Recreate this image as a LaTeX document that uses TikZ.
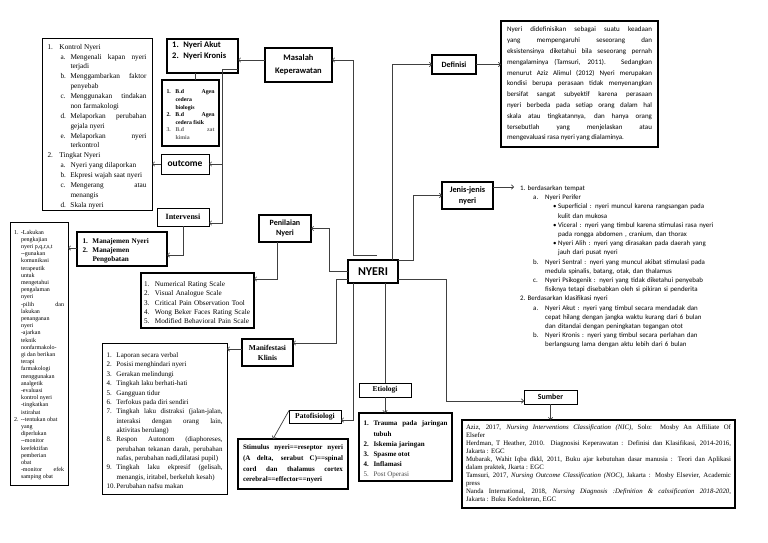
\documentclass[tikz,border=0pt]{standalone}
\usepackage{fontspec}
\setmainfont{Liberation Serif}
\newfontfamily\carl{Carlito}
\usetikzlibrary{arrows.meta,calc}
\newcommand\fs[2]{\fontsize{#1}{#2}\selectfont}
\newcommand\li[3]{\par\hangindent=#2\relax\hangafter=1\relax\noindent\makebox[#2][l]{\hspace*{#1}#3}\ignorespaces}
\tolerance=10000
\hyphenpenalty=10000
\exhyphenpenalty=10000
\setlength\parindent{0pt}
\begin{document}
\begin{tikzpicture}[x=1pt,y=-1pt,
  bx/.style={draw=black,line width=0.9pt,inner sep=0pt,outer sep=0pt},
  tk/.style={bx,line width=1.6pt},
  ln/.style={draw=black!75,line width=0.7pt},
  ar/.style={ln,-{Straight Barb[length=2.2pt,width=4.4pt]}},
]
\fill[white] (0,0) rectangle (768,543);
\useasboundingbox (0,0) rectangle (768,543);

% ---------- left column ----------
\node[bx,minimum width=110pt,minimum height=172pt,text width=99pt,align=justify,font=\fs{7.3}{9.875}] (kontrol) at (97,124) {%
\li{0pt}{12pt}{1.}Kontrol Nyeri
\li{13pt}{23pt}{a.}Mengenali kapan nyeri\linebreak terjadi
\li{13pt}{23pt}{b.}Menggambarkan faktor\linebreak penyebab
\li{13pt}{23pt}{c.}Menggunakan tindakan\linebreak non farmakologi
\li{13pt}{23pt}{d.}Melaporkan perubahan\linebreak gejala nyeri
\li{13pt}{23pt}{e.}Melaporkan nyeri\linebreak terkontrol
\li{0pt}{12pt}{2.}Tingkat Nyeri
\li{13pt}{23pt}{a.}Nyeri yang dilaporkan
\li{13pt}{23pt}{b.}Ekpresi wajah saat nyeri
\li{13pt}{23pt}{c.}Mengerang atau\linebreak menangis
\li{13pt}{23pt}{d.}Skala nyeri\par};

\node[tk,minimum width=71pt,minimum height=34pt] (akut) at (202.5,56) {};
\node[anchor=north west,inner sep=0pt,align=left,font=\carl\bfseries\fs{8.5}{11}] (akuttxt) at (172,41) {1.\hspace{4.5pt}Nyeri Akut\\2.\hspace{4.5pt}Nyeri Kronis};

\node[tk,minimum width=57pt,minimum height=66pt,text width=48pt,align=justify,font=\bfseries\fs{5.8}{7.6}] (bd) at (190.5,113) {%
\li{0pt}{9pt}{1.}B.d Agen\linebreak cedera\newline biologis
\li{0pt}{9pt}{2.}B.d Agen\linebreak cedera fisik
\li{0pt}{9pt}{\color{black!60}3.}{\color{black!60}B.d zat\linebreak kimia}\par};

\node[bx,line width=1.2pt,minimum width=67pt,minimum height=34pt,align=center,font=\carl\bfseries\fs{8.5}{13}] (masalah) at (298.5,65) {Masalah\\Keperawatan};

\node[bx,minimum width=48pt,minimum height=20pt,font=\carl\bfseries\fs{9.5}{11}] (outcome) at (185,164) {outcome};

\node[bx,minimum width=52pt,minimum height=18pt,font=\bfseries\fs{8}{10}] (intervensi) at (183,217) {Intervensi};

\node[tk,minimum width=90pt,minimum height=34pt,text width=79pt,align=left,font=\bfseries\fs{7.2}{9}] (manajemen) at (122,249) {%
\li{0pt}{10pt}{1.}Manajemen Nyeri
\li{0pt}{10pt}{2.}Manajemen\newline Pengobatan\par};

\node[bx,minimum width=58pt,minimum height=263pt,text width=50pt,align=justify,font=\fs{6}{7.2}] (leftbox) at (39,353.5) {%
\li{0pt}{7pt}{1.}-Lakukan\newline pengkajian\newline nyeri p,q,r,s,t\newline -{}-gunakan\newline komunikasi\newline terapeutik\newline untuk\newline mengetahui\newline pengalaman\newline nyeri\newline -pilih dan\linebreak lakukan\newline penanganan\newline nyeri\newline -ajarkan\newline teknik\newline nonfarmakolo-\newline gi dan berikan\newline terapi\newline farmakologi\newline menggunakan\newline analgetik\newline -evaluasi\newline kontrol nyeri\newline -tingkatkan\newline istirahat
\li{0pt}{7pt}{2.}-{}-tentukan obat\newline yang\newline diperlukan\newline -{}-monitor\newline keefektifan\newline pemberian\newline obat\newline -monitor efek\linebreak samping obat\par};

% ---------- centre ----------
\node[bx,line width=1.1pt,minimum width=52pt,minimum height=27pt,align=center,font=\carl\bfseries\fs{8}{10.5}] (penilaian) at (285,228.5) {Penilaian\\Nyeri};

\node[tk,minimum width=113pt,minimum height=55pt,text width=107pt,align=left,font=\fs{7.2}{9.2}] (scales) at (197.5,300.5) {%
\li{0pt}{11pt}{1.}Numerical Rating Scale
\li{0pt}{11pt}{2.}Visual Analogue Scale
\li{0pt}{11pt}{3.}Critical Pain Observation Tool
\li{0pt}{11pt}{4.}Wong Beker Faces Rating Scale
\li{0pt}{11pt}{5.}Modified Behavioral Pain Scale\par};

\node[tk,minimum width=50pt,minimum height=23pt,font=\carl\bfseries\fs{12}{14}] (nyeri) at (373,271.5) {NYERI};

\node[tk,minimum width=51pt,minimum height=27pt,align=center,font=\bfseries\fs{7.5}{10}] (manif) at (267.5,352.5) {Manifestasi\\Klinis};

\node[bx,minimum width=125pt,minimum height=151pt,text width=116pt,align=justify,font=\fs{7}{9.36}] (maniflist) at (164.5,418.5) {%
\li{0pt}{10pt}{1.}Laporan secara verbal
\li{0pt}{10pt}{2.}Posisi menghindari nyeri
\li{0pt}{10pt}{3.}Gerakan melindungi
\li{0pt}{10pt}{4.}Tingkah laku berhati-hati
\li{0pt}{10pt}{5.}Gangguan tidur
\li{0pt}{10pt}{6.}Terfokus pada diri sendiri
\li{0pt}{10pt}{7.}Tingkah laku distraksi (jalan-jalan,\linebreak interaksi dengan orang lain,\linebreak aktivitas berulang)
\li{0pt}{10pt}{8.}Respon Autonom (diaphoreses,\linebreak perubahan tekanan darah, perubahan\linebreak nafas, perubahan nadi,dilatasi pupil)
\li{0pt}{10pt}{9.}Tingkah laku ekpresif (gelisah,\linebreak menangis, iritabel, berkeluh kesah)
\li{0pt}{10pt}{10.}Perubahan nafsu makan\par};

\node[bx,minimum width=52pt,minimum height=13pt,font=\bfseries\fs{7.5}{9}] (pato) at (315,417) {Patofisiologi};

\node[tk,minimum width=110pt,minimum height=50pt,text width=100pt,align=justify,font=\bfseries\fs{7}{10.7}] (stimulus) at (293,464) {%
Stimulus nyeri==reseptor nyeri\linebreak (A delta, serabut C)==spinal\linebreak cord dan thalamus cortex\linebreak cerebral==effector==nyeri\par};

\node[bx,minimum width=52pt,minimum height=14pt,font=\bfseries\fs{7.5}{9}] (etiologi) at (385,390) {Etiologi};

\node[tk,minimum width=93pt,minimum height=68pt,text width=84pt,align=justify,font=\bfseries\fs{7}{10.2}] (etilist) at (405.5,447) {%
\li{0pt}{10pt}{1.}Trauma pada jaringan\linebreak tubuh
\li{0pt}{10pt}{2.}Iskemia jaringan
\li{0pt}{10pt}{3.}Spasme otot
\li{0pt}{10pt}{4.}Inflamasi
\li{0pt}{10pt}{\mdseries\color{black!70}5.}{\mdseries\color{black!70}Post Operasi}\par};

% ---------- right ----------
\node[tk,minimum width=44pt,minimum height=19pt,font=\carl\bfseries\fs{8}{10}] (definisi) at (454,64.5) {Definisi};

\node[tk,minimum width=157pt,minimum height=126pt,text width=145pt,align=justify,font=\carl\fs{7}{10.8}] (deftext) at (579.5,84) {%
Nyeri didefinisikan sebagai suatu keadaan\linebreak yang mempengaruhi seseorang dan\linebreak eksistensinya diketahui bila seseorang pernah\linebreak mengalaminya (Tamsuri, 2011). Sedangkan\linebreak menurut Aziz Alimul (2012) Nyeri merupakan\linebreak kondisi berupa perasaan tidak menyenangkan\linebreak bersifat sangat subyektif karena perasaan\linebreak nyeri berbeda pada setiap orang dalam hal\linebreak skala atau tingkatannya, dan hanya orang\linebreak tersebutlah yang menjelaskan atau\linebreak mengevaluasi rasa nyeri yang dialaminya.\par};

\node[tk,line width=1.2pt,minimum width=51pt,minimum height=27pt,align=center,font=\carl\bfseries\fs{8.3}{11}] (jenis) at (467.5,195.5) {Jenis-jenis\\nyeri};

\node[anchor=north west,inner sep=0pt,text width=215pt,align=left,font=\carl\fs{6.9}{9.2}] (jtext) at (520,181) {%
\li{0pt}{7.5pt}{1.}berdasarkan tempat
\li{13pt}{25pt}{a.}Nyeri Perifer
\li{33pt}{38pt}{\textbullet}Superficial : nyeri muncul karena rangsangan pada\newline kulit dan mukosa
\li{33pt}{38pt}{\textbullet}Viceral : nyeri yang timbul karena stimulasi rasa nyeri\newline pada rongga abdomen , cranium, dan thorax
\li{33pt}{38pt}{\textbullet}Nyeri Alih : nyeri yang dirasakan pada daerah yang\newline jauh dari pusat nyeri
\li{13pt}{25pt}{b.}Nyeri Sentral : nyeri yang muncul akibat stimulasi pada\newline medula spinalis, batang, otak, dan thalamus
\li{13pt}{25pt}{c.}Nyeri Psikogenik : nyeri yang tidak diketahui penyebab\newline fisiknya tetapi disebabkan oleh si pikiran si penderita
\li{0pt}{7.5pt}{2.}Berdasarkan klasifikasi nyeri
\li{13pt}{25pt}{a.}Nyeri Akut : nyeri yang timbul secara mendadak dan\newline cepat hilang dengan jangka waktu kurang dari 6 bulan\newline dan ditandai dengan peningkatan tegangan otot
\li{13pt}{25pt}{b.}Nyeri Kronis : nyeri yang timbul secara perlahan dan\newline berlangsung lama dengan aktu lebih dari 6 bulan\par};

\node[bx,minimum width=53pt,minimum height=14pt,font=\carl\bfseries\fs{7.8}{9}] (sumber) at (550.5,397) {Sumber};

\node[tk,minimum width=273pt,minimum height=88pt,text width=265pt,align=justify,font=\fs{6.8}{8}] (refs) at (598.5,464) {%
Aziz, 2017, \textit{Nursing Interventions Classification (NIC),} Solo: Mosby An Affiliate Of\linebreak Elsefer\par
Herdman, T Heather, 2010. Diagnosisi Keperawatan : Definisi dan Klasifikasi, 2014-2016,\linebreak Jakarta : EGC\par
Mubarak, Wahit Iqba dkkl, 2011, Buku ajar kebutuhan dasar manusia : Teori dan Aplikasi\linebreak dalam praktek, Jkarta : EGC\par
Tamsuri, 2017, \textit{Nursing Outcome Classification (NOC)}, Jakarta : Mosby Elsevier, Academic\linebreak press\par
Nanda International, 2018, \textit{Nursing Diagnosis :Definition \& calssification 2018-2020,}\linebreak Jakarta : Buku Kedokteran, EGC\par};

% ---------- coordinates ----------
\coordinate (mw) at ($(masalah.west)+(0,-5)$);
\coordinate (me) at ($(masalah.east)+(0,-5)$);
\coordinate (nm) at (377,255);
\coordinate (ntop) at ($(nyeri.north)+(19,0)$);
\coordinate (je) at ($(jenis.east)+(0,-8.5)$);
\coordinate (ps) at ($(penilaian.south)+(-8,0)$);
\coordinate (se) at ($(scales.east)+(0,-21.5)$);
\coordinate (nw2) at ($(nyeri.west)+(0,7.5)$);
\coordinate (mfe) at ($(manif.east)+(0,-9.5)$);
\coordinate (mfw) at ($(manif.west)+(0,-3.5)$);
\coordinate (nsb) at ($(nyeri.south)+(-20,0)$);
\coordinate (pe) at ($(pato.east)+(0,3)$);
\coordinate (ne2) at ($(nyeri.east)+(0,7.5)$);
\coordinate (sw) at ($(sumber.west)+(0,4)$);
\coordinate (ab) at ($(akut.south)+(-7.5,0)$);
\coordinate (ae) at ($(akut.east)+(0,13)$);
\coordinate (br) at ($(ae)+(-16,0)$);
\coordinate (ie) at ($(intervensi.east)+(0,6)$);
\coordinate (me2) at ($(manajemen.east)+(0,6)$);
\coordinate (mjw) at ($(manajemen.west)+(0,-1)$);

% ---------- connectors ----------
\draw[ar] (mw) -- (mw -| akut.east);
\draw[ar] (nm) -- ++(-24,0) |- (me);
\draw[ar] (ntop) |- (definisi.west);
\draw[ar] (definisi.east) -- (definisi.east -| deftext.west);
\draw[ar] (nyeri.north east) -- ++(15,0) |- (jenis.west);
\draw[ar] (je) -- ++(21,0);
\draw[ar] (nyeri.west) -- ++(-19,0) |- (penilaian.east);
\draw[ar] (ps) |- (se);
\draw[ar] (nw2) -- ++(-12,0) |- (mfe);
\draw[ar] (mfw) -- (mfw -| maniflist.east);
\draw[ar] (nsb) |- (pe);
\draw[ar] (pato.north west) -- ($(stimulus.north)+(-20,0)$);
\draw[ln] (etiologi.north |- nyeri.south) -- (etiologi.north);
\draw[ar] (etiologi.south) -- (etiologi.south |- etilist.north);
\draw[ar] (ne2) -- ++(48,0) |- (sw);
\draw[ar] (sumber.south) -- (sumber.south |- refs.north);
\draw[ln] (ab) -- (ab |- bd.north);
\draw[ar] (ae) -- (br) |- (ie);
\draw[ar] (br |- outcome.east) -- (outcome.east);
\draw[ar] (outcome.west) -- (outcome.west -| kontrol.east);
\draw[ar] (intervensi.south) |- (me2);
\draw[ar] (mjw) -- (mjw -| leftbox.east);
\end{tikzpicture}
\end{document}
